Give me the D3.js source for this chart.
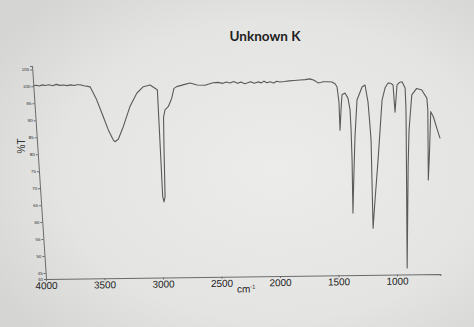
<!DOCTYPE html>
<html>
<head>
<meta charset="utf-8">
<script src="https://cdn.jsdelivr.net/npm/d3@7"></script>
<style>
  html, body { margin: 0; padding: 0; background: #e4e4e2; }
  svg { display: block; }
</style>
</head>
<body>
<svg id="chart" width="474" height="327"></svg>
<script>
// ---- data ----
const title = "Unknown K";
const xTickValues = [4000, 3500, 3000, 2500, 2000, 1500, 1000];
const yTickValues = [105, 100, 95, 90, 85, 80, 75, 70, 65, 60, 55, 50, 45, 40];
const wavenumbers = [
  4000, 3975, 3950, 3925, 3900, 3870, 3840, 3810, 3780, 3750, 3720, 3690, 3660, 3640, 3613, 3580, 3550, 3531, 3507,
  3482, 3435, 3399, 3362, 3349, 3320, 3273, 3209, 3147, 3090, 3034, 2994,
  2975, 2973, 2971, 2962, 2951, 2942, 2934, 2919, 2890, 2859, 2837, 2814, 2761,
  2702, 2645, 2579, 2512, 2470, 2430, 2400, 2371, 2340, 2310, 2280, 2250, 2231, 2200, 2170, 2140, 2110, 2090,
  2065, 2040, 2010, 1985, 1957, 1920, 1880, 1840, 1791, 1750, 1709, 1675, 1643, 1620, 1601, 1560, 1527, 1500,
  1486, 1472, 1467, 1456, 1446, 1421, 1397, 1381, 1375, 1370, 1369, 1355, 1343, 1322, 1279, 1254,
  1231, 1220, 1209, 1205, 1200, 1181, 1152, 1114, 1088, 1063, 1040, 1022, 1007, 989, 970, 947,
  922, 916, 915, 914, 913, 900, 891, 882, 867, 826, 784, 742, 734, 731, 720, 710, 688, 655, 632
];
const transmittance = [
  100.2, 100.3, 100.1, 100.4, 100.2, 100.4, 100.1, 100.5, 100.2, 100.3, 100.1, 100.3, 100.1, 100.3, 100.3, 100.0, 99.8, 99.65, 97.8,
  95.8, 90.8, 86.9, 83.9, 83.4, 84.1, 87.8, 93.7, 97.6, 99.5, 100.0, 99.0,
  98.5, 82.9, 67.1, 65.5, 67.0, 80.8, 90.5, 92.6, 93.6, 96.0, 98.9, 99.4, 99.9,
  100.4, 99.8, 99.7, 100.4, 100.5, 100.2, 100.6, 100.3, 100.7, 100.2, 100.5, 100.0, 100.2, 100.6, 100.1, 100.5, 100.2, 100.7,
  100.2, 100.5, 100.1, 100.6, 100.4, 100.5, 100.7, 100.8, 100.9, 101.0, 101.2, 100.8, 100.0, 100.1, 100.3, 100.3, 100.2, 99.6,
  98.7, 94.3, 86.0, 91.9, 96.4, 96.9, 95.4, 91.9, 86.6, 77.2, 61.5, 74.2, 83.9, 94.8, 98.6, 99.2,
  94.2, 88.9, 83.0, 71.2, 57.0, 65.3, 77.1, 94.7, 98.3, 99.7, 99.6, 99.1, 91.1, 99.1, 99.8, 100.0,
  98.2, 92.3, 86.8, 70.0, 45.1, 75.5, 85.8, 89.7, 96.1, 98.0, 97.5, 95.1, 91.6, 71.0, 79.8, 91.1, 89.6, 85.7, 83.2
];

// ---- layout ----
const svg = d3.select("#chart");
const W = 394.3, H = 213;          // inner plot size (before photo distortion)
const OX = 46, OY = 66;            // bottom-left corner at (46, 279)
const TILT = 0.0127;               // x axis rises to the right
const LEAN0 = 0.0657;              // y axis leans (photo perspective)

const x = d3.scaleLinear().domain([4000, 630]).range([0, W]);
const y = d3.scaleLinear().domain([40, 45, 106]).range([H, 207, 0]);

// photo perspective: vertical lean fades from left to right
function proj(px, py) {
  const L = LEAN0 * (1 - px / 393);
  return [OX + px + L * (py - H), OY + py - TILT * px];
}

// background (photographed sheet)
const defs = svg.append("defs");
const grad = defs.append("radialGradient").attr("id", "bg")
  .attr("cx", "58%").attr("cy", "52%").attr("r", "70%");
grad.append("stop").attr("offset", "0%").attr("stop-color", "#ececea");
grad.append("stop").attr("offset", "65%").attr("stop-color", "#e4e5e3");
grad.append("stop").attr("offset", "100%").attr("stop-color", "#d5d6d4");
svg.append("rect").attr("width", 474).attr("height", 327).attr("fill", "url(#bg)");

// title
svg.append("text")
  .attr("x", 265).attr("y", 40.5)
  .attr("text-anchor", "middle")
  .attr("font-family", "Lato, 'Open Sans', sans-serif")
  .attr("font-weight", 700)
  .attr("font-size", 13.5)
  .attr("fill", "#1e1e1e")
  .text(title);

// x axis
const gx = svg.append("g")
  .attr("transform", `matrix(1,${-TILT},0,1,${OX},${OY + H})`)
  .call(d3.axisBottom(x).tickValues(xTickValues).tickSize(2).tickPadding(1).tickFormat(d3.format("d")));
gx.select(".domain").attr("stroke", "#6a6a6a").attr("stroke-width", 1);
gx.selectAll(".tick line").attr("stroke", "#6a6a6a");
gx.selectAll(".tick text")
  .attr("font-family", "'Liberation Sans', Arial, sans-serif")
  .attr("font-size", 10).attr("fill", "#222");

// unit label cm-1
const unit = gx.append("text")
  .attr("x", x(2500) + 15.5).attr("y", 16)
  .attr("text-anchor", "start")
  .attr("font-family", "'Liberation Sans', Arial, sans-serif")
  .attr("font-size", 10).attr("fill", "#222");
unit.append("tspan").text("cm");
unit.append("tspan").attr("dy", -4).attr("font-size", 5.5).text("-1");

// y axis
const gy = svg.append("g")
  .attr("transform", `matrix(1,0,${LEAN0},1,${OX - LEAN0 * H},${OY})`)
  .call(d3.axisLeft(y).tickValues(yTickValues).tickSize(2).tickPadding(1).tickFormat(d3.format("d")));
gy.select(".domain").attr("stroke", "#6a6a6a").attr("stroke-width", 1);
gy.selectAll(".tick line").attr("stroke", "#6a6a6a");
gy.selectAll(".tick text")
  .attr("font-family", "'Liberation Sans', Arial, sans-serif")
  .attr("font-size", 4.5).attr("fill", "#333");

// y label %T
svg.append("text")
  .attr("transform", "translate(25,146) rotate(-90)")
  .attr("text-anchor", "middle")
  .attr("font-family", "'Liberation Sans', Arial, sans-serif")
  .attr("font-size", 10).attr("fill", "#333")
  .text("%T");

// spectrum
const pts = wavenumbers.map((w, i) => ({ w, t: transmittance[i] }));
const line = d3.line()
  .x(d => proj(x(d.w), y(d.t))[0])
  .y(d => proj(x(d.w), y(d.t))[1]);
svg.append("path")
  .datum(pts)
  .attr("d", line)
  .attr("fill", "none")
  .attr("stroke", "#5a5a5a")
  .attr("stroke-width", 1.1)
  .attr("stroke-linejoin", "round");
</script>
</body>
</html>
